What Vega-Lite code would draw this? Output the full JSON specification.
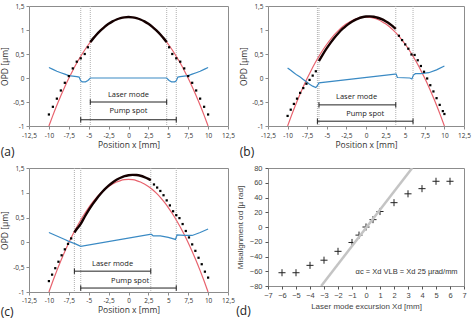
{
"$schema": "https://vega.github.io/schema/vega-lite/v6.json",
"padding": {"left": 0, "top": 2, "right": 1, "bottom": 0},
"columns": 2,
"spacing": {"row": 42, "column": 40},
"bounds": "flush",
"datasets": {
"red": [{"x":-10,"y":-1.0},{"x":-9.5,"y":-0.779},{"x":-9,"y":-0.569},{"x":-8.5,"y":-0.37},{"x":-8,"y":-0.183},{"x":-7.5,"y":-0.007},{"x":-7,"y":0.158},{"x":-6.5,"y":0.311},{"x":-6,"y":0.453},{"x":-5.5,"y":0.583},{"x":-5,"y":0.703},{"x":-4.5,"y":0.81},{"x":-4,"y":0.907},{"x":-3.5,"y":0.992},{"x":-3,"y":1.066},{"x":-2.5,"y":1.128},{"x":-2,"y":1.179},{"x":-1.5,"y":1.219},{"x":-1,"y":1.247},{"x":-0.5,"y":1.264},{"x":0,"y":1.27},{"x":0.5,"y":1.264},{"x":1,"y":1.247},{"x":1.5,"y":1.219},{"x":2,"y":1.179},{"x":2.5,"y":1.128},{"x":3,"y":1.066},{"x":3.5,"y":0.992},{"x":4,"y":0.907},{"x":4.5,"y":0.81},{"x":5,"y":0.703},{"x":5.5,"y":0.583},{"x":6,"y":0.453},{"x":6.5,"y":0.311},{"x":7,"y":0.158},{"x":7.5,"y":-0.007},{"x":8,"y":-0.183},{"x":8.5,"y":-0.37},{"x":9,"y":-0.569},{"x":9.5,"y":-0.779},{"x":10,"y":-1.0}]
},
"config": {
"view": {"stroke": "#8c8c8c", "strokeWidth": 1},
"axis": {"grid": false, "domain": false, "tickColor": "#8c8c8c", "tickSize": 3, "labelFont": "Open Sans", "labelFontSize": 6.5, "labelColor": "#333", "titleFont": "Open Sans", "titleFontSize": 8.5, "titleFontWeight": "normal", "titleColor": "#333", "labelPadding": 3, "titlePadding": 2, "labelOverlap": false, "labelFlush": false},
"axisY": {"labelPadding": 2, "titlePadding": 3},
"title": {"orient": "bottom", "anchor": "start", "frame": "bounds", "fontSize": 12, "fontWeight": "normal", "font": "Open Sans", "color": "#222"},
"text": {"font": "Open Sans", "fontSize": 7.5, "color": "#222"}
},
"concat": [
{
"title": {"text": "(a)", "offset": -2},
"width": 199, "height": 120,
"layer": [
{"data": {"values": [{"x":-6},{"x":-4.8},{"x":4.8},{"x":6}]}, "mark": {"type": "rule", "color": "#b0b0b0", "strokeDash": [1,1], "strokeWidth": 1},
 "encoding": {"x": {"field": "x", "type": "quantitative", "scale": {"domain": [-12.5, 12.5], "nice": false, "zero": false}, "title": "Position x [mm]", "axis": {"values": [-12.5,-10,-7.5,-5,-2.5,0,2.5,5,7.5,10,12.5], "tickCount": 30, "labelOverlap": false, "labelExpr": "replace(toString(datum.value), '.', ',')"}}}},
{"mark": {"type": "rule", "color": "#444", "strokeWidth": 1}, "encoding": {"y": {"datum": 0, "type": "quantitative"}}},
{"mark": {"type": "rule", "color": "#444", "strokeWidth": 1}, "encoding": {"x": {"datum": 0, "type": "quantitative"}}},
{"data": {"name": "red"}, "mark": {"type": "line", "color": "#e8636e", "strokeWidth": 1.2, "interpolate": "monotone"}, "encoding": {"x": {"field": "x", "type": "quantitative"}, "y": {"field": "y", "type": "quantitative", "scale": {"domain": [-1, 1.5], "nice": false, "zero": false}, "title": "OPD [µm]", "axis": {"values": [-1,-0.5,0,0.5,1,1.5], "tickCount": 30, "labelOverlap": false, "labelExpr": "replace(toString(datum.value), '.', ',')"}}}},
{"data": {"values": [{"x":-10,"y":0.22},{"x":-9.5,"y":0.18},{"x":-9,"y":0.14},{"x":-8.5,"y":0.11},{"x":-8,"y":0.08},{"x":-7.5,"y":0.05},{"x":-7,"y":0.04},{"x":-6.5,"y":0.03},{"x":-6.2,"y":0.02},{"x":-6.0,"y":-0.06},{"x":-5.8,"y":-0.08},{"x":-5.4,"y":-0.08},{"x":-5.1,"y":-0.05},{"x":-4.8,"y":0.0},{"x":0,"y":0.0},{"x":4.8,"y":0.0},{"x":5.1,"y":-0.05},{"x":5.4,"y":-0.08},{"x":5.8,"y":-0.08},{"x":6.0,"y":-0.06},{"x":6.2,"y":0.02},{"x":6.5,"y":0.03},{"x":7,"y":0.04},{"x":7.5,"y":0.05},{"x":8,"y":0.08},{"x":8.5,"y":0.11},{"x":9,"y":0.14},{"x":9.5,"y":0.18},{"x":10,"y":0.22}]},
 "mark": {"type": "line", "color": "#3a8ac4", "strokeWidth": 1.2}, "encoding": {"x": {"field": "x", "type": "quantitative"}, "y": {"field": "y", "type": "quantitative"}}},
{"data": {"values": [{"x":-10,"y":-0.76},{"x":-9.5,"y":-0.6},{"x":-9,"y":-0.43},{"x":-8.5,"y":-0.26},{"x":-8,"y":-0.1},{"x":-7.5,"y":0.04},{"x":-7,"y":0.2},{"x":-6.5,"y":0.34},{"x":-6,"y":0.41},{"x":-5.5,"y":0.5},{"x":-5.1,"y":0.64},{"x":5.1,"y":0.64},{"x":5.5,"y":0.5},{"x":6,"y":0.41},{"x":6.5,"y":0.34},{"x":7,"y":0.2},{"x":7.5,"y":0.04},{"x":8,"y":-0.1},{"x":8.5,"y":-0.26},{"x":9,"y":-0.43},{"x":9.5,"y":-0.6},{"x":10,"y":-0.76}]},
 "mark": {"type": "point", "shape": "square", "filled": true, "size": 5, "color": "#000", "opacity": 1}, "encoding": {"x": {"field": "x", "type": "quantitative"}, "y": {"field": "y", "type": "quantitative"}}},
{"data": {"values": [{"x":-4.8,"y":0.747},{"x":-4.5,"y":0.81},{"x":-4,"y":0.907},{"x":-3.5,"y":0.992},{"x":-3,"y":1.066},{"x":-2.5,"y":1.128},{"x":-2,"y":1.179},{"x":-1.5,"y":1.219},{"x":-1,"y":1.247},{"x":-0.5,"y":1.264},{"x":0,"y":1.27},{"x":0.5,"y":1.264},{"x":1,"y":1.247},{"x":1.5,"y":1.219},{"x":2,"y":1.179},{"x":2.5,"y":1.128},{"x":3,"y":1.066},{"x":3.5,"y":0.992},{"x":4,"y":0.907},{"x":4.5,"y":0.81},{"x":4.8,"y":0.747}]},
 "mark": {"type": "line", "color": "#150000", "strokeWidth": 2.4, "interpolate": "monotone"}, "encoding": {"x": {"field": "x", "type": "quantitative"}, "y": {"field": "y", "type": "quantitative"}}},
{"data": {"values": [{"x":-4.8,"x2":4.8,"y":-0.5,"label":"Laser mode","tx":0,"ty":-0.35},{"x":-6,"x2":6,"y":-0.87,"label":"Pump spot","tx":0,"ty":-0.69}]},
 "layer": [
  {"mark": {"type": "rule", "color": "#222", "strokeWidth": 1}, "encoding": {"x": {"field": "x", "type": "quantitative"}, "x2": {"field": "x2"}, "y": {"field": "y", "type": "quantitative"}}},
  {"transform": [{"fold": ["x", "x2"], "as": ["end", "xe"]}], "mark": {"type": "point", "shape": "M0,-1L0,1", "filled": false, "size": 30, "color": "#222", "strokeWidth": 1, "opacity": 1}, "encoding": {"x": {"field": "xe", "type": "quantitative"}, "y": {"field": "y", "type": "quantitative"}}},
  {"mark": {"type": "text"}, "encoding": {"x": {"field": "tx", "type": "quantitative"}, "y": {"field": "ty", "type": "quantitative"}, "text": {"field": "label"}}}
 ]}
]
},
{
"title": {"text": "(b)", "offset": -2},
"width": 196, "height": 120,
"layer": [
{"data": {"values": [{"x":-6.2},{"x":-6.0},{"x":3.8},{"x":6}]}, "mark": {"type": "rule", "color": "#b0b0b0", "strokeDash": [1,1], "strokeWidth": 1},
 "encoding": {"x": {"field": "x", "type": "quantitative", "scale": {"domain": [-12.5, 12.5], "nice": false, "zero": false}, "title": "Position x [mm]", "axis": {"values": [-12.5,-10,-7.5,-5,-2.5,0,2.5,5,7.5,10,12.5], "tickCount": 30, "labelOverlap": false, "labelExpr": "replace(toString(datum.value), '.', ',')"}}}},
{"mark": {"type": "rule", "color": "#444", "strokeWidth": 1}, "encoding": {"y": {"datum": 0, "type": "quantitative"}}},
{"mark": {"type": "rule", "color": "#444", "strokeWidth": 1}, "encoding": {"x": {"datum": 0, "type": "quantitative"}}},
{"data": {"name": "red"}, "mark": {"type": "line", "color": "#e8636e", "strokeWidth": 1.2, "interpolate": "monotone"}, "encoding": {"x": {"field": "x", "type": "quantitative"}, "y": {"field": "y", "type": "quantitative", "scale": {"domain": [-1, 1.5], "nice": false, "zero": false}, "title": "OPD [µm]", "axis": {"values": [-1,-0.5,0,0.5,1,1.5], "tickCount": 30, "labelOverlap": false, "labelExpr": "replace(toString(datum.value), '.', ',')"}}}},
{"data": {"values": [{"x":-10,"y":0.21},{"x":-9.6,"y":0.16},{"x":-9.2,"y":0.11},{"x":-8.8,"y":0.06},{"x":-8.4,"y":0.02},{"x":-8,"y":-0.03},{"x":-7.6,"y":-0.08},{"x":-7.2,"y":-0.13},{"x":-6.8,"y":-0.17},{"x":-6.4,"y":-0.2},{"x":-6.2,"y":-0.16},{"x":-6.0,"y":-0.1},{"x":3.7,"y":0.08},{"x":3.85,"y":0.08},{"x":4.0,"y":0.01},{"x":5.6,"y":0.0},{"x":5.85,"y":-0.02},{"x":6.05,"y":0.06},{"x":6.3,"y":0.09},{"x":7,"y":0.09},{"x":8,"y":0.11},{"x":9,"y":0.17},{"x":10,"y":0.25}]},
 "mark": {"type": "line", "color": "#3a8ac4", "strokeWidth": 1.2}, "encoding": {"x": {"field": "x", "type": "quantitative"}, "y": {"field": "y", "type": "quantitative"}}},
{"data": {"values": [{"x":-10,"y":-0.79},{"x":-9.6,"y":-0.66},{"x":-9.2,"y":-0.54},{"x":-8.8,"y":-0.43},{"x":-8.4,"y":-0.31},{"x":-8.0,"y":-0.21},{"x":-7.6,"y":-0.12},{"x":-7.2,"y":-0.04},{"x":-6.8,"y":0.05},{"x":-6.4,"y":0.14},{"x":4.2,"y":0.88},{"x":4.6,"y":0.79},{"x":5.0,"y":0.7},{"x":5.4,"y":0.61},{"x":5.8,"y":0.49},{"x":6.2,"y":0.48},{"x":6.6,"y":0.37},{"x":7.0,"y":0.25},{"x":7.4,"y":0.13},{"x":7.8,"y":-0.01},{"x":8.2,"y":-0.15},{"x":8.6,"y":-0.28},{"x":9.0,"y":-0.42},{"x":9.4,"y":-0.56},{"x":9.8,"y":-0.69},{"x":10.0,"y":-0.75}]},
 "mark": {"type": "point", "shape": "square", "filled": true, "size": 5, "color": "#000", "opacity": 1}, "encoding": {"x": {"field": "x", "type": "quantitative"}, "y": {"field": "y", "type": "quantitative"}}},
{"data": {"values": [{"x":-6,"y":0.353},{"x":-5.5,"y":0.492},{"x":-5,"y":0.621},{"x":-4.5,"y":0.737},{"x":-4,"y":0.844},{"x":-3.5,"y":0.938},{"x":-3,"y":1.021},{"x":-2.5,"y":1.092},{"x":-2,"y":1.152},{"x":-1.5,"y":1.201},{"x":-1,"y":1.239},{"x":-0.5,"y":1.265},{"x":0,"y":1.28},{"x":0.5,"y":1.283},{"x":1,"y":1.276},{"x":1.5,"y":1.255},{"x":2,"y":1.226},{"x":2.5,"y":1.183},{"x":3,"y":1.132},{"x":3.4,"y":1.081},{"x":3.8,"y":1.022}]},
 "mark": {"type": "line", "color": "#150000", "strokeWidth": 2.4, "interpolate": "monotone"}, "encoding": {"x": {"field": "x", "type": "quantitative"}, "y": {"field": "y", "type": "quantitative"}}},
{"data": {"values": [{"x":-6,"x2":3.8,"y":-0.56,"label":"Laser mode","tx":-1.2,"ty":-0.39},{"x":-6.2,"x2":6,"y":-0.9,"label":"Pump spot","tx":-0.1,"ty":-0.76}]},
 "layer": [
  {"mark": {"type": "rule", "color": "#222", "strokeWidth": 1}, "encoding": {"x": {"field": "x", "type": "quantitative"}, "x2": {"field": "x2"}, "y": {"field": "y", "type": "quantitative"}}},
  {"transform": [{"fold": ["x", "x2"], "as": ["end", "xe"]}], "mark": {"type": "point", "shape": "M0,-1L0,1", "filled": false, "size": 30, "color": "#222", "strokeWidth": 1, "opacity": 1}, "encoding": {"x": {"field": "xe", "type": "quantitative"}, "y": {"field": "y", "type": "quantitative"}}},
  {"mark": {"type": "text"}, "encoding": {"x": {"field": "tx", "type": "quantitative"}, "y": {"field": "ty", "type": "quantitative"}, "text": {"field": "label"}}}
 ]}
]
},
{
"title": {"text": "(c)", "offset": -7},
"width": 199, "height": 124,
"layer": [
{"data": {"values": [{"x":-6.8},{"x":-6.0},{"x":2.8},{"x":6}]}, "mark": {"type": "rule", "color": "#b0b0b0", "strokeDash": [1,1], "strokeWidth": 1},
 "encoding": {"x": {"field": "x", "type": "quantitative", "scale": {"domain": [-12.5, 12.5], "nice": false, "zero": false}, "title": "Position x [mm]", "axis": {"values": [-12.5,-10,-7.5,-5,-2.5,0,2.5,5,7.5,10,12.5], "tickCount": 30, "labelOverlap": false, "labelExpr": "replace(toString(datum.value), '.', ',')", "labelPadding": 2}}}},
{"mark": {"type": "rule", "color": "#444", "strokeWidth": 1}, "encoding": {"y": {"datum": 0, "type": "quantitative"}}},
{"mark": {"type": "rule", "color": "#444", "strokeWidth": 1}, "encoding": {"x": {"datum": 0, "type": "quantitative"}}},
{"data": {"name": "red"}, "mark": {"type": "line", "color": "#e8636e", "strokeWidth": 1.2, "interpolate": "monotone"}, "encoding": {"x": {"field": "x", "type": "quantitative"}, "y": {"field": "y", "type": "quantitative", "scale": {"domain": [-1, 1.5], "nice": false, "zero": false}, "title": "OPD [µm]", "axis": {"values": [-1,-0.5,0,0.5,1,1.5], "tickCount": 30, "labelOverlap": false, "labelExpr": "replace(toString(datum.value), '.', ',')"}}}},
{"data": {"values": [{"x":-10,"y":0.2},{"x":-9,"y":0.13},{"x":-8,"y":0.06},{"x":-7.5,"y":0.02},{"x":-7,"y":-0.01},{"x":-6.8,"y":-0.02},{"x":-6.4,"y":-0.05},{"x":-6.0,"y":-0.08},{"x":2.7,"y":0.16},{"x":2.9,"y":0.16},{"x":3.1,"y":0.13},{"x":4,"y":0.13},{"x":5,"y":0.1},{"x":5.9,"y":0.06},{"x":6.1,"y":0.15},{"x":7,"y":0.14},{"x":8,"y":0.14},{"x":9,"y":0.2},{"x":10,"y":0.27}]},
 "mark": {"type": "line", "color": "#3a8ac4", "strokeWidth": 1.2}, "encoding": {"x": {"field": "x", "type": "quantitative"}, "y": {"field": "y", "type": "quantitative"}}},
{"data": {"values": [{"x":-10,"y":-0.78},{"x":-9.6,"y":-0.65},{"x":-9.2,"y":-0.52},{"x":-8.8,"y":-0.39},{"x":-8.4,"y":-0.26},{"x":-8.0,"y":-0.14},{"x":-7.6,"y":-0.03},{"x":-7.2,"y":0.08},{"x":3.2,"y":1.168},{"x":3.6,"y":1.106},{"x":4.0,"y":1.037},{"x":4.4,"y":0.951},{"x":4.8,"y":0.847},{"x":5.2,"y":0.746},{"x":5.6,"y":0.628},{"x":6.0,"y":0.55},{"x":6.4,"y":0.49},{"x":6.8,"y":0.37},{"x":7.2,"y":0.23},{"x":7.6,"y":0.1},{"x":8.0,"y":-0.04},{"x":8.4,"y":-0.17},{"x":8.8,"y":-0.31},{"x":9.2,"y":-0.44},{"x":9.6,"y":-0.59},{"x":10,"y":-0.71}]},
 "mark": {"type": "point", "shape": "square", "filled": true, "size": 5, "color": "#000", "opacity": 1}, "encoding": {"x": {"field": "x", "type": "quantitative"}, "y": {"field": "y", "type": "quantitative"}}},
{"data": {"values": [{"x":-6.8,"y":0.2},{"x":-6.4,"y":0.29},{"x":-6,"y":0.373},{"x":-5.5,"y":0.517},{"x":-5,"y":0.65},{"x":-4.5,"y":0.771},{"x":-4,"y":0.882},{"x":-3.5,"y":0.98},{"x":-3,"y":1.069},{"x":-2.5,"y":1.144},{"x":-2,"y":1.209},{"x":-1.5,"y":1.263},{"x":-1,"y":1.304},{"x":-0.5,"y":1.335},{"x":0,"y":1.354},{"x":0.5,"y":1.362},{"x":1,"y":1.358},{"x":1.5,"y":1.344},{"x":2,"y":1.317},{"x":2.5,"y":1.28},{"x":2.8,"y":1.252}]},
 "mark": {"type": "line", "color": "#150000", "strokeWidth": 2.4, "interpolate": "monotone"}, "encoding": {"x": {"field": "x", "type": "quantitative"}, "y": {"field": "y", "type": "quantitative"}}},
{"data": {"values": [{"x":-6.8,"x2":2.8,"y":-0.58,"label":"Laser mode","tx":-2,"ty":-0.43},{"x":-6,"x2":6,"y":-0.92,"label":"Pump spot","tx":0.2,"ty":-0.78}]},
 "layer": [
  {"mark": {"type": "rule", "color": "#222", "strokeWidth": 1}, "encoding": {"x": {"field": "x", "type": "quantitative"}, "x2": {"field": "x2"}, "y": {"field": "y", "type": "quantitative"}}},
  {"transform": [{"fold": ["x", "x2"], "as": ["end", "xe"]}], "mark": {"type": "point", "shape": "M0,-1L0,1", "filled": false, "size": 30, "color": "#222", "strokeWidth": 1, "opacity": 1}, "encoding": {"x": {"field": "xe", "type": "quantitative"}, "y": {"field": "y", "type": "quantitative"}}},
  {"mark": {"type": "text"}, "encoding": {"x": {"field": "tx", "type": "quantitative"}, "y": {"field": "ty", "type": "quantitative"}, "text": {"field": "label"}}}
 ]}
]
},
{
"title": {"text": "(d)", "offset": -5},
"width": 196, "height": 118,
"layer": [
{"mark": {"type": "rule", "color": "#b5b5b5", "strokeWidth": 1}, "encoding": {"x": {"datum": 0, "type": "quantitative"}}},
{"mark": {"type": "rule", "color": "#b5b5b5", "strokeWidth": 1}, "encoding": {"y": {"datum": 0, "type": "quantitative"}}},
{"data": {"values": [{"x":-6,"y":-62},{"x":-5,"y":-62},{"x":-4,"y":-52},{"x":-3,"y":-45},{"x":-2,"y":-33},{"x":-1,"y":-21},{"x":-0.5,"y":-11},{"x":0,"y":0},{"x":0.5,"y":10},{"x":1,"y":21},{"x":2,"y":33},{"x":3,"y":45},{"x":4,"y":52},{"x":5,"y":62},{"x":6,"y":62}]},
 "mark": {"type": "point", "shape": "M-1,0L1,0M0,-1L0,1", "filled": false, "size": 50, "color": "#222", "strokeWidth": 1, "opacity": 1},
 "encoding": {"x": {"field": "x", "type": "quantitative", "scale": {"domain": [-7, 7], "nice": false, "zero": false}, "title": "Laser mode excursion  Xd [mm]", "axis": {"values": [-7,-6,-5,-4,-3,-2,-1,0,1,2,3,4,5,6,7], "tickCount": 30, "format": "d", "labelOverlap": false, "labelFont": "Liberation Sans", "titleFont": "Liberation Sans", "labelColor": "#444", "titleColor": "#444", "labelFontSize": 7.5, "titleFontSize": 8, "tickColor": "#555", "labelPadding": 2, "titlePadding": 4}},
  "y": {"field": "y", "type": "quantitative", "scale": {"domain": [-80, 80], "nice": false, "zero": false}, "title": "Misalignment  αd  [µ rad]", "axis": {"values": [-80,-60,-40,-20,0,20,40,60,80], "tickCount": 30, "format": "d", "labelOverlap": false, "labelFont": "Liberation Sans", "titleFont": "Liberation Sans", "labelColor": "#444", "titleColor": "#444", "labelFontSize": 7.5, "titleFontSize": 8, "tickColor": "#555", "labelPadding": 3, "titlePadding": 5}}}},
{"data": {"values": [{"x":-3.2,"y":-80},{"x":3.3,"y":80}]}, "mark": {"type": "line", "color": "#c4c4c4", "strokeWidth": 2.5, "clip": true}, "encoding": {"x": {"field": "x", "type": "quantitative"}, "y": {"field": "y", "type": "quantitative"}}},
{"data": {"values": [{"tx": 2.9, "ty": -61, "label": "αc = Xd VLB = Xd 25 µrad/mm"}]}, "mark": {"type": "text", "font": "Liberation Sans", "fontSize": 7.5, "color": "#333"}, "encoding": {"x": {"field": "tx", "type": "quantitative"}, "y": {"field": "ty", "type": "quantitative"}, "text": {"field": "label"}}}
]
}
]
}
